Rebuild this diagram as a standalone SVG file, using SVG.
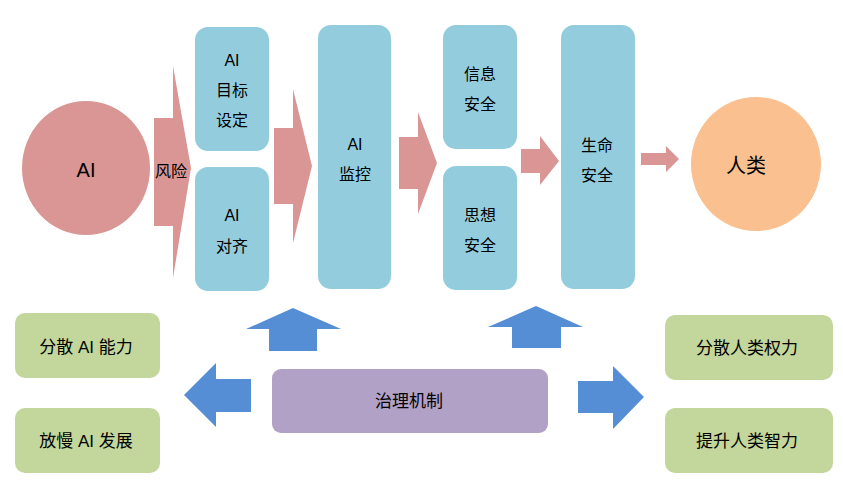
<svg xmlns="http://www.w3.org/2000/svg" width="843" height="487" viewBox="0 0 843 487">
<style>
.pk{fill:#D99694}
.bl{fill:#93CDDD}
.ba{fill:#558ED5}
.gr{fill:#C3D69B}
.t{font-family:"Liberation Sans","Noto Sans CJK SC",sans-serif;font-size:16px;fill:#000;text-anchor:middle;dominant-baseline:central}
.tl{font-size:20px}
.tb{font-size:17px}
</style>
<rect width="843" height="487" fill="#fff"/>
<g id="connectors">
<polygon class="pk" points="154,118 173,118 173,66 191,168 173,278 173,226 154,226"/>
<polygon class="pk" points="274,128 293,128 293,89 312,166 293,243 293,204 274,204"/>
<polygon class="pk" points="399,137 418,137 418,112 437,163 418,214 418,189 399,189"/>
<polygon class="pk" points="521,149 540,149 540,136 559,161 540,185 540,173 521,173"/>
<polygon class="pk" points="641,153 666,153 666,146 679,159 666,172 666,165 641,165"/>
<polygon class="ba" points="269,351 269,329 246,329 293,308 341,329 317,329 317,351"/>
<polygon class="ba" points="512,348 512,327 488,327 536,306 583,327 561,327 561,348"/>
<polygon class="ba" points="251,379 216,379 216,363 184,395 216,427 216,412 251,412"/>
<polygon class="ba" points="578,381 613,381 613,366 644,397 613,429 613,413 578,413"/>
</g>
<g id="ai"><ellipse class="pk" cx="86" cy="168" rx="64" ry="67"/><text class="t tl" x="86" y="170">AI</text></g>
<g id="risk"><text class="t" x="171" y="171">风险</text></g>
<g id="goal"><rect class="bl" x="195" y="27" width="74" height="124" rx="13"/><text class="t" x="232" y="60">AI</text><text class="t" x="232" y="90">目标</text><text class="t" x="232" y="120">设定</text></g>
<g id="align"><rect class="bl" x="195" y="167" width="74" height="124" rx="13"/><text class="t" x="232" y="215">AI</text><text class="t" x="232" y="246">对齐</text></g>
<g id="monitor"><rect class="bl" x="318" y="25" width="73" height="264" rx="13"/><text class="t" x="355" y="144">AI</text><text class="t" x="355" y="174">监控</text></g>
<g id="info"><rect class="bl" x="443" y="25" width="74" height="124" rx="13"/><text class="t" x="480" y="74">信息</text><text class="t" x="480" y="104">安全</text></g>
<g id="thought"><rect class="bl" x="443" y="166" width="74" height="124" rx="13"/><text class="t" x="480" y="215">思想</text><text class="t" x="480" y="245">安全</text></g>
<g id="life"><rect class="bl" x="561" y="25" width="74" height="264" rx="13"/><text class="t" x="597" y="145">生命</text><text class="t" x="597" y="175">安全</text></g>
<g id="human"><ellipse cx="756" cy="164" rx="65" ry="67" fill="#FAC090"/><text class="t tl" x="746" y="166">人类</text></g>
<g id="g1"><rect class="gr" x="15" y="313" width="145" height="65" rx="10"/><text class="t tb" x="86" y="347">分散 AI 能力</text></g>
<g id="g2"><rect class="gr" x="15" y="408" width="145" height="65" rx="10"/><text class="t tb" x="86" y="441">放慢 AI 发展</text></g>
<g id="g3"><rect class="gr" x="665" y="315" width="168" height="65" rx="10"/><text class="t tb" x="747" y="348">分散人类权力</text></g>
<g id="g4"><rect class="gr" x="665" y="408" width="168" height="65" rx="10"/><text class="t tb" x="747" y="441">提升人类智力</text></g>
<g id="gov"><rect x="272" y="369" width="276" height="64" rx="9" fill="#B2A1C7"/><text class="t tb" x="409" y="401">治理机制</text></g>
</svg>
